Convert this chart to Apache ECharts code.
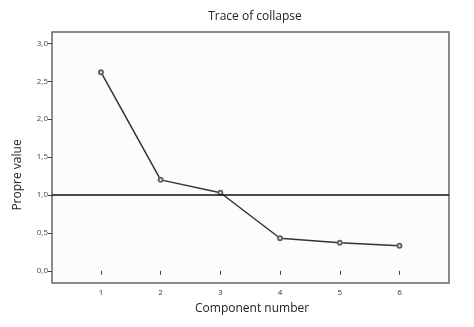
<!DOCTYPE html>
<html><head><meta charset="utf-8">
<script src="https://cdn.jsdelivr.net/npm/echarts@6/dist/echarts.min.js"></script>
<style>html,body{margin:0;padding:0;background:#fff}#c{width:474px;height:327px}</style>
</head><body><div id="c"></div>
<script>
const titleText = "Trace of collapse";
const xName = "Component number";
const yName = "Propre value";
const components = [1, 2, 3, 4, 5, 6];
const eigenvalues = [2.62, 1.20, 1.03, 0.43, 0.37, 0.33];
const yTicks = [0, 0.5, 1.0, 1.5, 2.0, 2.5, 3.0];
const referenceLine = 1.0;

const chart = echarts.init(document.getElementById('c'), null, {renderer: 'canvas'});
const font = '"Open Sans", "Noto Sans", sans-serif';
chart.setOption({
  animation: false,
  backgroundColor: '#ffffff',
  title: {text: titleText, left: 250, top: 6, textAlign: 'center',
    textStyle: {fontFamily: font, fontSize: 12, fontWeight: 'normal', color: '#222'}},
  grid: {left: 52, right: 25, top: 32, bottom: 44, show: true,
    backgroundColor: '#fefcfb', borderColor: '#666', borderWidth: 1.5},
  xAxis: {type: 'value', min: 0.18, max: 6.83,
    axisLine: {show: false}, splitLine: {show: false},
    axisTick: {show: true, length: 4, customValues: components, lineStyle: {color: '#444'}},
    axisLabel: {customValues: components, fontFamily: font, fontSize: 8, color: '#333', margin: 6,
      formatter: v => String(v)}},
  yAxis: {type: 'value', min: -0.16, max: 3.15,
    axisLine: {show: false}, splitLine: {show: false},
    axisTick: {show: true, length: 4, customValues: yTicks, lineStyle: {color: '#444'}},
    axisLabel: {customValues: yTicks, fontFamily: font, fontSize: 8, color: '#444', margin: 4,
      formatter: v => v.toFixed(1).replace('.', ',')}},
  graphic: [
    {type: 'text', left: 195, top: 303, style: {text: xName, font: '12px ' + font, fill: '#222'}},
    {type: 'text', x: 18, y: 175, rotation: Math.PI / 2,
      style: {text: yName, font: '12px ' + font, fill: '#222', align: 'center', verticalAlign: 'middle'}}
  ],
  series: [{
    type: 'line',
    data: components.map((c, i) => [c, eigenvalues[i]]),
    symbol: 'emptyCircle', symbolSize: 4,
    lineStyle: {color: '#333', width: 1.5},
    itemStyle: {color: '#666', borderColor: '#666', borderWidth: 1},
    markLine: {silent: true, symbol: 'none', label: {show: false},
      lineStyle: {color: '#111', width: 1.5, type: 'solid'},
      data: [{yAxis: referenceLine}]}
  }]
});
</script></body></html>
